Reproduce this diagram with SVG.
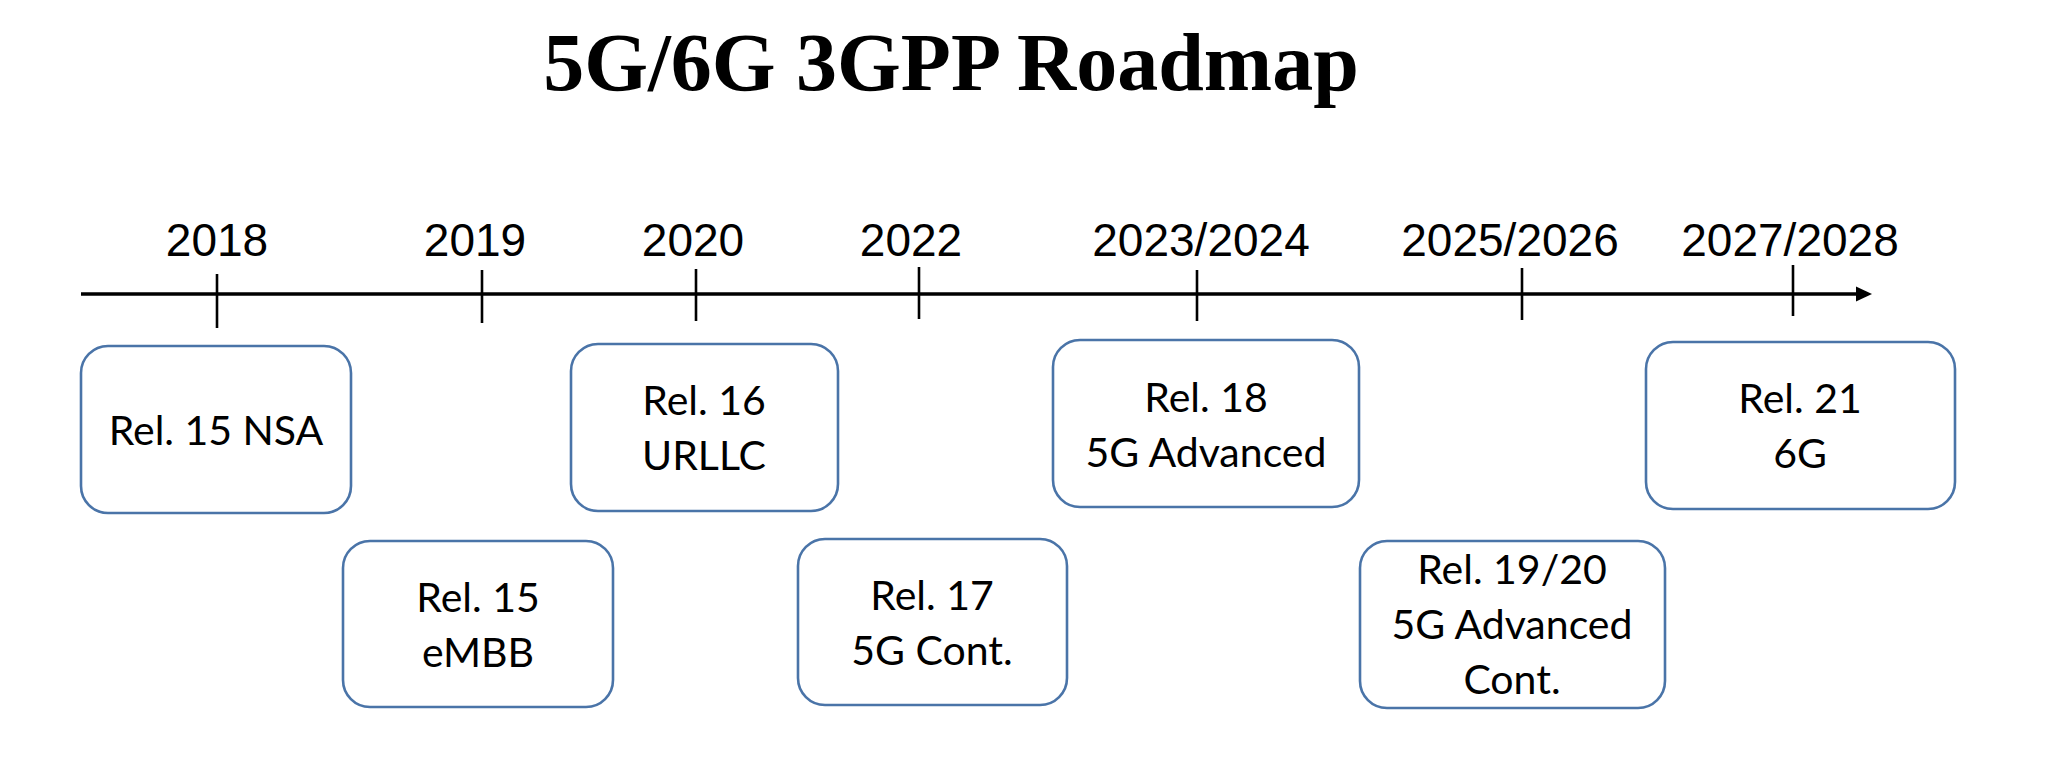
<svg xmlns="http://www.w3.org/2000/svg" width="2048" height="774" viewBox="0 0 2048 774">
<style>
.title{font-family:"Liberation Serif","Times New Roman",serif;font-weight:bold;font-size:82px;fill:#000}
.year{font-family:"Liberation Sans",Arial,sans-serif;font-size:46px;fill:#000;text-anchor:middle}
.box{fill:#fff;stroke:#4a74a8;stroke-width:2.6}
.lbl{font-family:Lato,"Open Sans",sans-serif;font-size:41px;fill:#000;text-anchor:middle}
.tick{stroke:#000;stroke-width:2.6}
.axis{stroke:#000;stroke-width:3.5}
</style>
<rect width="2048" height="774" fill="#fff"/>
<text class="title" x="951" y="90" text-anchor="middle">5G/6G 3GPP Roadmap</text>
<g id="timeline">
<line class="axis" x1="81" y1="294" x2="1858" y2="294"/>
<path d="M1856,286.5 L1872,294 L1856,301.5 Z" fill="#000"/>
<line class="tick" x1="217" y1="274" x2="217" y2="328"/>
<line class="tick" x1="482" y1="270" x2="482" y2="323"/>
<line class="tick" x1="696" y1="269" x2="696" y2="321"/>
<line class="tick" x1="919" y1="267" x2="919" y2="319"/>
<line class="tick" x1="1197" y1="270" x2="1197" y2="321"/>
<line class="tick" x1="1522" y1="268" x2="1522" y2="320"/>
<line class="tick" x1="1793" y1="265" x2="1793" y2="316"/>
<text class="year" x="217" y="256">2018</text>
<text class="year" x="475" y="256">2019</text>
<text class="year" x="693" y="256">2020</text>
<text class="year" x="911" y="256">2022</text>
<text class="year" x="1201" y="256">2023/2024</text>
<text class="year" x="1510" y="256">2025/2026</text>
<text class="year" x="1790" y="256">2027/2028</text>
</g>
<g id="rel15nsa">
<rect class="box" x="81" y="346" width="270" height="167" rx="27"/>
<text class="lbl" x="216" y="445">Rel. 15 NSA</text>
</g>
<g id="rel15embb">
<rect class="box" x="343" y="541" width="270" height="166" rx="27"/>
<text class="lbl" x="478" y="612">Rel. 15</text>
<text class="lbl" x="478" y="667">eMBB</text>
</g>
<g id="rel16">
<rect class="box" x="571" y="344" width="267" height="167" rx="27"/>
<text class="lbl" x="704" y="415">Rel. 16</text>
<text class="lbl" x="704" y="470">URLLC</text>
</g>
<g id="rel17">
<rect class="box" x="798" y="539" width="269" height="166" rx="27"/>
<text class="lbl" x="932" y="610">Rel. 17</text>
<text class="lbl" x="932" y="665">5G Cont.</text>
</g>
<g id="rel18">
<rect class="box" x="1053" y="340" width="306" height="167" rx="27"/>
<text class="lbl" x="1206" y="412">Rel. 18</text>
<text class="lbl" x="1206" y="467">5G Advanced</text>
</g>
<g id="rel1920">
<rect class="box" x="1360" y="541" width="305" height="167" rx="27"/>
<text class="lbl" x="1512" y="584">Rel. 19/20</text>
<text class="lbl" x="1512" y="639">5G Advanced</text>
<text class="lbl" x="1512" y="694">Cont.</text>
</g>
<g id="rel21">
<rect class="box" x="1646" y="342" width="309" height="167" rx="27"/>
<text class="lbl" x="1800" y="413">Rel. 21</text>
<text class="lbl" x="1800" y="468">6G</text>
</g>
</svg>
